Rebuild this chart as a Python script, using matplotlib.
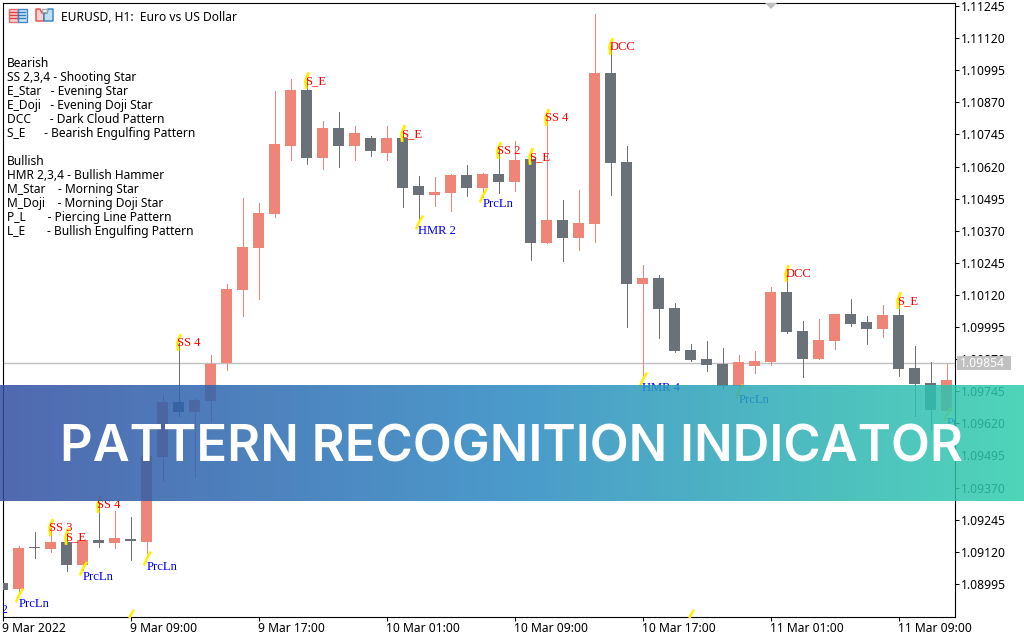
"""EURUSD H1 candles with pattern labels and the title band on top."""

import numpy as np
import matplotlib
matplotlib.use("Agg")
import matplotlib.pyplot as plt
from matplotlib.path import Path
from matplotlib.patches import Rectangle, Polygon
from matplotlib.transforms import ScaledTranslation

# -----------------------------------------------------------------------
# Data
# -----------------------------------------------------------------------
opens = [1.08998, 1.08975, 1.09138, 1.09131, 1.09158, 1.09068, 1.09166, 1.09154, 1.09170, 1.09158,
         1.09489, 1.09703, 1.09664, 1.09707, 1.09855, 1.10139, 1.10303, 1.10435, 1.10700, 1.10918,
         1.10653, 1.10770, 1.10700, 1.10731, 1.10673, 1.10731, 1.10544, 1.10509, 1.10517, 1.10587,
         1.10536, 1.10591, 1.10560, 1.10649, 1.10322, 1.10412, 1.10342, 1.10396, 1.10984, 1.10638,
         1.10162, 1.10186, 1.10069, 1.09905, 1.09870, 1.09851, 1.09765, 1.09843, 1.09859, 1.10131,
         1.09979, 1.09870, 1.09941, 1.10046, 1.10014, 1.09987, 1.10042, 1.09835, 1.09777, 1.09668]
highs = [1.08998, 1.09142, 1.09197, 1.09212, 1.09193, 1.09166, 1.09310, 1.09279, 1.09255, 1.09493,
         1.09730, 1.09933, 1.09719, 1.09886, 1.10162, 1.10497, 1.10478, 1.10914, 1.10961, 1.10972,
         1.10797, 1.10832, 1.10778, 1.10739, 1.10778, 1.10770, 1.10583, 1.10579, 1.10591, 1.10626,
         1.10595, 1.10696, 1.10719, 1.10665, 1.10821, 1.10490, 1.10529, 1.11214, 1.11093, 1.10700,
         1.10236, 1.10198, 1.10088, 1.09929, 1.09941, 1.09913, 1.09886, 1.09902, 1.10151, 1.10198,
         1.10018, 1.10026, 1.10046, 1.10104, 1.10038, 1.10081, 1.10100, 1.09921, 1.09859, 1.09851]
lows = [1.08971, 1.08963, 1.09096, 1.09119, 1.09045, 1.09049, 1.09138, 1.09134, 1.09088, 1.09115,
        1.09395, 1.09648, 1.09411, 1.09629, 1.09828, 1.10038, 1.10104, 1.10423, 1.10645, 1.10630,
        1.10610, 1.10618, 1.10645, 1.10661, 1.10645, 1.10462, 1.10412, 1.10466, 1.10447, 1.10505,
        1.10501, 1.10517, 1.10525, 1.10256, 1.10322, 1.10252, 1.10295, 1.10326, 1.10509, 1.09995,
        1.09800, 1.09952, 1.09898, 1.09863, 1.09824, 1.09758, 1.09750, 1.09816, 1.09847, 1.09972,
        1.09800, 1.09870, 1.09909, 1.09999, 1.09929, 1.09956, 1.09804, 1.09648, 1.09594, 1.09652]
closes = [1.08971, 1.09134, 1.09134, 1.09158, 1.09068, 1.09166, 1.09154, 1.09173, 1.09162, 1.09493,
          1.09703, 1.09664, 1.09711, 1.09851, 1.10143, 1.10307, 1.10439, 1.10708, 1.10918, 1.10653,
          1.10770, 1.10700, 1.10750, 1.10680, 1.10731, 1.10536, 1.10509, 1.10521, 1.10587, 1.10536,
          1.10591, 1.10560, 1.10645, 1.10322, 1.10412, 1.10342, 1.10400, 1.10984, 1.10634, 1.10162,
          1.10186, 1.10065, 1.09902, 1.09867, 1.09847, 1.09765, 1.09859, 1.09863, 1.10131, 1.09976,
          1.09870, 1.09944, 1.10046, 1.10007, 1.09987, 1.10042, 1.09831, 1.09773, 1.09672, 1.09789]

price_ticks = [1.11245, 1.11120, 1.10995, 1.10870, 1.10745, 1.10620, 1.10495, 1.10370, 1.10245,
               1.10120, 1.09995, 1.09870, 1.09745, 1.09620, 1.09495, 1.09370, 1.09245, 1.09120,
               1.08995]
time_idx = [0, 8, 16, 24, 32, 40, 48, 56]
time_labels = ["9 Mar 2022", "9 Mar 09:00", "9 Mar 17:00", "10 Mar 01:00",
               "10 Mar 09:00", "10 Mar 17:00", "11 Mar 01:00", "11 Mar 09:00"]
last_price = 1.09854

# pattern labels: text, candle index, price at the text's middle
bear_text = ["S_E", "S_E", "SS 2", "S_E", "SS 4", "DCC", "DCC", "S_E", "SS 4", "SS 3", "S_E", "SS 4"]
bear_idx = [19, 25, 31, 33, 34, 38, 49, 56, 11, 3, 4, 6]
bear_price = [1.10953, 1.10747, 1.10680, 1.10657, 1.10809, 1.11085,
              1.10201, 1.10096, 1.09933, 1.09212, 1.09177, 1.09302]
bull_text = ["HMR 2", "PrcLn", "HMR 4", "PrcLn", "PrcLn", "PrcLn", "PrcLn", "PrcLn", "HMR 2"]
bull_idx = [26, 30, 40, 46, 59, 1, 5, 9, -2]
bull_price = [1.10369, 1.10474, 1.09758, 1.09711, 1.09621, 1.08916, 1.09022, 1.09060, 1.08893]
# marks whose label falls below the chart
loose_idx = [8, 43]
loose_price = [1.08877, 1.08877]

legend_lines = ["Bearish", "SS 2,3,4 - Shooting Star", "E_Star   - Evening Star",
                "E_Doji   - Evening Doji Star", "DCC      - Dark Cloud Pattern",
                "S_E      - Bearish Engulfing Pattern", "",
                "Bullish", "HMR 2,3,4 - Bullish Hammer", "M_Star    - Morning Star",
                "M_Doji    - Morning Doji Star", "P_L       - Piercing Line Pattern",
                "L_E       - Bullish Engulfing Pattern"]

SALMON = "#ee8577"
GRAY = "#6b7178"
UI_FONT = "Noto Sans"
LABEL_FONT = "Liberation Serif"

# -----------------------------------------------------------------------
# Chart
# -----------------------------------------------------------------------
W, H = 1024, 640
fig = plt.figure(figsize=(W / 100, H / 100), dpi=100, facecolor="white")
ax = fig.add_axes([2.5 / W, (H - 616.5) / H, 952 / W, 614 / H])
ax.set_xlim(0, 59.5)
ax.set_ylim(1.08868, 1.11259)

x = np.arange(len(opens))
o, h, l, c = map(np.array, (opens, highs, lows, closes))
colors = [SALMON if cl > op else GRAY for op, cl in zip(o, c)]

ax.axhline(last_price, color="#c0c0c0", lw=1.0, zorder=1)
ax.vlines(x, l, h, colors=colors, lw=0.7, zorder=2, antialiased=False)
ax.bar(x, np.abs(c - o), bottom=np.minimum(o, c), width=11 / 16, color=colors,
       lw=0, zorder=3, antialiased=False)

ax.set_xticks(time_idx)
ax.set_xticklabels(time_labels, ha="left", fontname=UI_FONT, fontsize=8.7)
ax.set_yticks(price_ticks)
ax.set_yticklabels([f"{p:.5f}" for p in price_ticks], fontname=UI_FONT, fontsize=8.7)
ax.yaxis.tick_right()
ax.tick_params(axis="both", length=3, width=0.75, pad=1.5, color="black")
for s in ax.spines.values():
    s.set_linewidth(0.8)

# x labels sit one pixel higher in the original
up_1px = ScaledTranslation(0, 1 / 100, fig.dpi_scale_trans)
for lab in ax.get_xticklabels():
    lab.set_transform(lab.get_transform() + up_1px)

# yellow arrow glyphs behind the labels
bear_mark = Path([(-0.08, -0.5), (-0.12, 0.0), (0.08, 0.5)])
bull_mark = Path([(-0.25, -0.5), (-0.05, 0.0), (0.25, 0.5)])
px = 0.00003894
ax.plot(bear_idx, [p + 1 * px for p in bear_price], ls="none", marker=bear_mark, ms=12,
        mfc="none", mec="#ffee00", mew=2.0, zorder=4)
ax.plot(bull_idx, [p + 9 * px for p in bull_price], ls="none", marker=bull_mark, ms=10,
        mfc="none", mec="#ffee00", mew=1.8, zorder=4)
ax.plot(loose_idx, loose_price, ls="none", marker=bull_mark, ms=7,
        mfc="none", mec="#ffee00", mew=1.8, zorder=4)

for txt, i, p in zip(bear_text, bear_idx, bear_price):
    ax.text(i - 0.08, p, txt, color="#ff0000", fontname=LABEL_FONT, fontsize=9.1,
            va="center", ha="left", clip_on=True, zorder=5)
for txt, i, p in zip(bull_text, bull_idx, bull_price):
    ax.text(i, p, txt, color="#0000ff", fontname=LABEL_FONT, fontsize=9.1,
            va="center", ha="left", clip_on=True, zorder=5)

# -----------------------------------------------------------------------
# Overlay in pixel coordinates: header, price tag, band, title
# -----------------------------------------------------------------------
top = fig.add_axes([0, 0, 1, 1], facecolor="none", zorder=10)
top.set_axis_off()

# toolbar icons
top.add_patch(Rectangle((8.5, 8.5), 9, 13, fc="#fbd0d0", ec="#e86a6a", lw=1))
top.add_patch(Rectangle((17.5, 8.5), 9, 13, fc="#cfe4f7", ec="#3f8ac8", lw=1))
for yy in (12, 15, 18):
    top.plot([10, 17], [yy, yy], color="#e03c3c", lw=1)
    top.plot([18, 25], [yy, yy], color="#2f7fc0", lw=1)
top.add_patch(Polygon([(36, 9), (40, 9), (42, 13), (44, 13), (44, 21), (36, 21)],
                      fc="#fbd0d0", ec="#e04a4a", lw=1))
top.add_patch(Polygon([(44, 13), (47, 13), (48, 9), (53, 9), (53, 21), (44, 21)],
                      fc="#bfe0f7", ec="#2f7fc0", lw=1))
top.add_patch(Rectangle((42, 8.5), 5, 3, fc="white", ec="#a8a8a8", lw=1))

top.text(61, 21, "EURUSD, H1:  Euro vs US Dollar", fontname=UI_FONT, fontsize=8.7,
         va="baseline", ha="left", color="black")
for k, line in enumerate(legend_lines):
    top.text(7, 67 + 14 * k, line, fontname=UI_FONT, fontsize=8.6, va="baseline", ha="left",
             color="black")

top.add_patch(Polygon([(765, 3), (777, 3), (771, 9)], fc="#c0c0c0", ec="none"))
top.add_patch(Rectangle((957, 356), 54, 14, fc="#c0c0c0", ec="none"))
top.text(960, 367, f"{last_price:.5f}", fontname=UI_FONT, fontsize=8.7, color="white",
         va="baseline", ha="left")

# band: left to right gradient, a little see-through
stops = np.array([[49, 78, 162], [42, 136, 194], [48, 206, 172]]) / 255
pos = np.linspace(0, 1, 512)
rgba = np.ones((1, 512, 4))
for ch in range(3):
    rgba[0, :, ch] = np.interp(pos, [0, 0.5, 1], stops[:, ch])
rgba[0, :, 3] = 0.85
top.imshow(rgba, extent=(0, W, 501, 385), aspect="auto", interpolation="bilinear", zorder=6)
top.set_xlim(0, W)
top.set_ylim(H, 0)

top.text(511, 461, "PATTERN RECOGNITION INDICATOR", fontname="Inter", fontsize=36.55,
         fontweight="semibold", color="white", va="baseline", ha="center", zorder=7)

fig.savefig("out.png", dpi=100)
